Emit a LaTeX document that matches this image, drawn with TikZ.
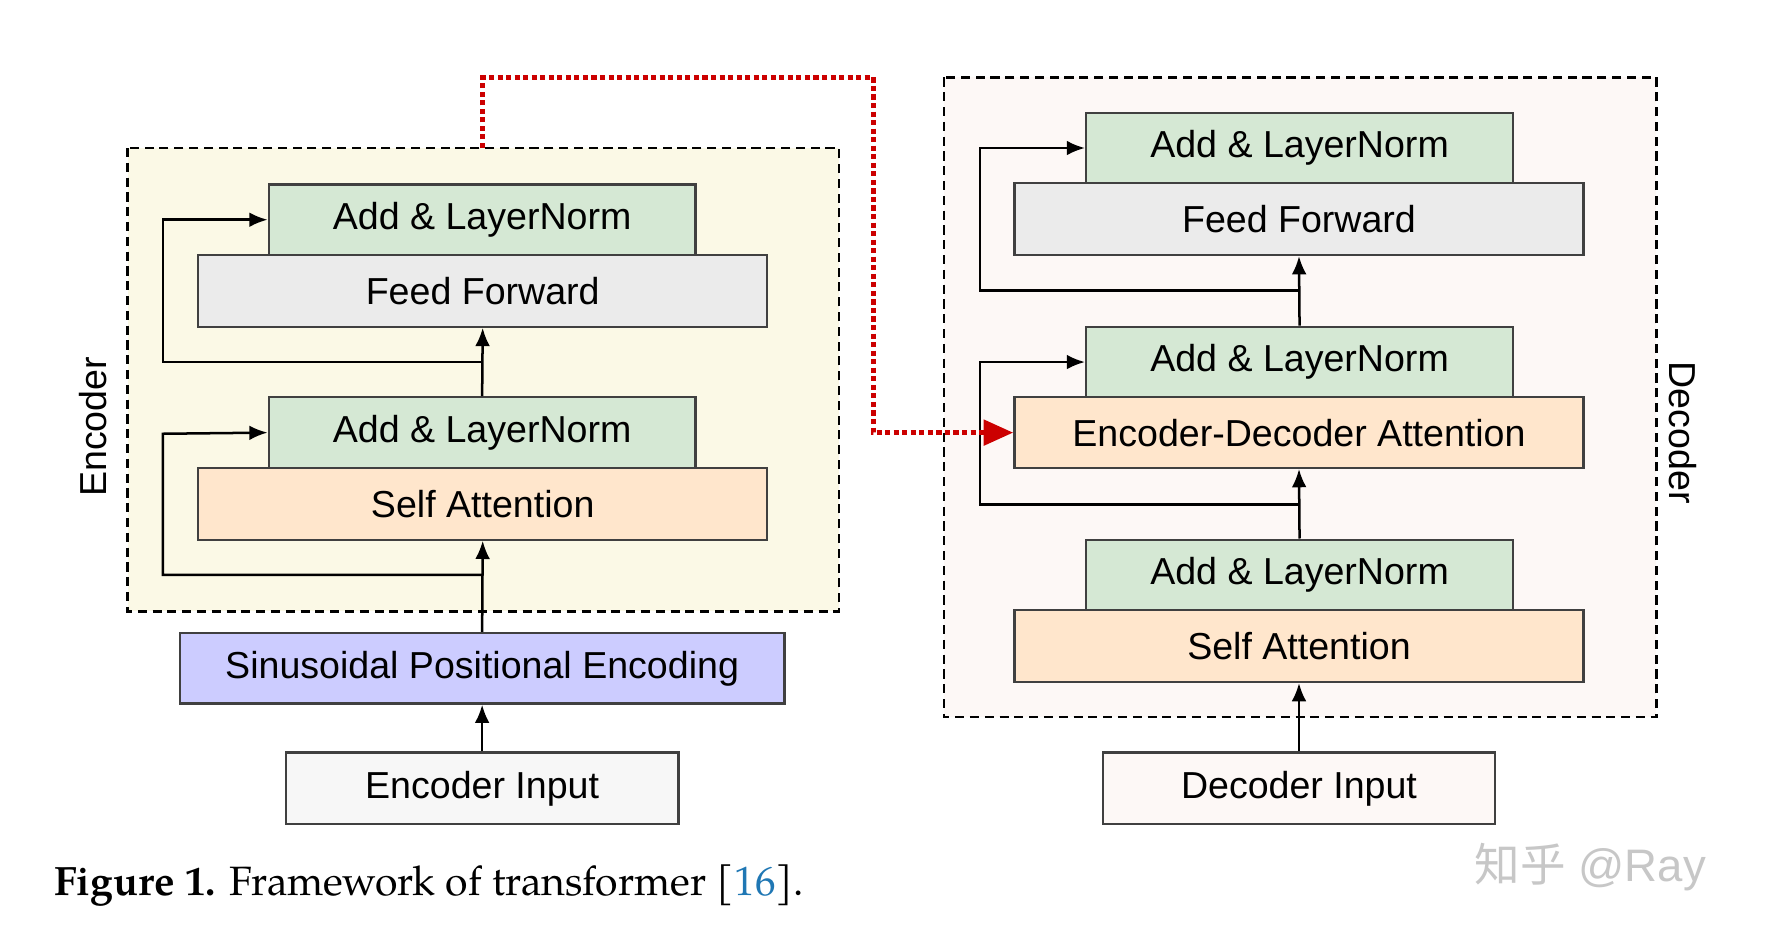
\documentclass[tikz,border=0pt]{standalone}
\usepackage{fontspec}
\setmainfont{Liberation Sans}
\newfontfamily\capfont{TeX Gyre Pagella}
\newfontfamily\cjk{Noto Sans CJK SC}
\usetikzlibrary{arrows.meta}
\definecolor{gn}{HTML}{D5E8D4}
\definecolor{gy}{HTML}{EBEBEB}
\definecolor{orr}{HTML}{FFE6CC}
\definecolor{pu}{HTML}{CCCCFF}
\definecolor{encbg}{HTML}{FBF9E6}
\definecolor{decbg}{HTML}{FDF8F6}
\definecolor{cite}{HTML}{1F77B4}
\begin{document}
\begin{tikzpicture}[x=1pt,y=-1pt,
  box/.style={draw=black!75,line width=2pt,inner sep=0pt,font=\fontsize{33}{38}\selectfont},
  ar/.style={line width=2.2pt,-{Latex[length=16pt,width=13pt]}},
  ln/.style={line width=2.2pt}]
\useasboundingbox (0,0) rectangle (1560,825);
\fill[white] (0,0) rectangle (1560,825);
% containers
\draw[fill=encbg,dashed,line width=2pt,dash pattern=on 8pt off 5pt] (112,130) rectangle (737,537);
\draw[fill=decbg,dashed,line width=2pt,dash pattern=on 8pt off 5pt] (829,68) rectangle (1455,630);
\node[rotate=90,font=\fontsize{33}{38}\selectfont] (enclbl) at (82,375) {Encoder};
\node[rotate=-90,font=\fontsize{33}{38}\selectfont] (declbl) at (1478,380) {Decoder};
% encoder boxes
\newcommand{\bx}[6]{\node[box,fill=#6,minimum width={#4-#2},minimum height={#5-#3}] (#1) at ({(#2+#4)/2},{(#3+#5)/2}) {\strut\ignorespaces};}
\node[box,fill=gn,minimum width=375,minimum height=62] (eln1) at (423.5,193) {Add \& LayerNorm};
\node[box,fill=gy,minimum width=500,minimum height=63] (eff) at (424,255.5) {Feed Forward};
\node[box,fill=gn,minimum width=375,minimum height=62] (eln2) at (423.5,380) {Add \& LayerNorm};
\node[box,fill=orr,minimum width=500,minimum height=63] (esa) at (424,442.5) {Self Attention};
\node[box,fill=pu,minimum width=531,minimum height=62] (pos) at (423.5,587) {Sinusoidal Positional Encoding};
\node[box,fill=black!3!white,minimum width=345,minimum height=63] (ein) at (423.5,692.5) {Encoder Input};
% decoder boxes
\node[box,fill=gn,minimum width=375,minimum height=62] (dln1) at (1141.5,130) {Add \& LayerNorm};
\node[box,fill=gy,minimum width=500,minimum height=63] (dff) at (1141,192.5) {Feed Forward};
\node[box,fill=gn,minimum width=375,minimum height=62] (dln2) at (1141.5,318) {Add \& LayerNorm};
\node[box,fill=orr,minimum width=500,minimum height=62] (dea) at (1141,380) {Encoder-Decoder Attention};
\node[box,fill=gn,minimum width=375,minimum height=62] (dln3) at (1141.5,505) {Add \& LayerNorm};
\node[box,fill=orr,minimum width=500,minimum height=63] (dsa) at (1141,567.5) {Self Attention};
\node[box,fill=decbg,minimum width=344,minimum height=63] (din) at (1141,692.5) {Decoder Input};
% encoder arrows
\coordinate (eb1) at (424,505);
\coordinate (eb2) at (424,318);
\draw[ar] (ein.north) -- (pos.south);
\draw[ar] (pos.north) -- (esa.south);
\draw[ar] (eb1) -- (143,505) -- (143,381) -- (eln2.west);
\draw[ar] (eln2.north) -- (eff.south);
\draw[ar] (eb2) -- (143,318) -- (143,193) -- (eln1.west);
% decoder arrows
\coordinate (db1) at (1141,443);
\coordinate (db2) at (1141,255);
\draw[ar] (din.north) -- (dsa.south);
\draw[ar] (dln3.north) -- (dea.south);
\draw[ar] (db1) -- (861,443) -- (861,318) -- (dln2.west);
\draw[ar] (dln2.north) -- (dff.south);
\draw[ar] (db2) -- (861,255) -- (861,130) -- (dln1.west);
% cross connection
\coordinate (etop) at (424,130);
\draw[red!80!black,line width=4.5pt,dash pattern=on 4.5pt off 3pt,-{Triangle[length=26pt,width=22pt]}]
  (etop) -- (424,68) -- (767,68) -- (767,380) -- (dea.west);
% caption
\node[anchor=west,font=\capfont\fontsize{36}{40}\selectfont] (cap) at (44,778) {\textbf{Figure 1.} Framework of transformer [\textcolor{cite}{16}].};
\node[anchor=west,text=black!22,font=\fontsize{40}{44}\selectfont] (wm) at (1292,762) {{\cjk 知乎} @Ray};
\end{tikzpicture}
\end{document}
